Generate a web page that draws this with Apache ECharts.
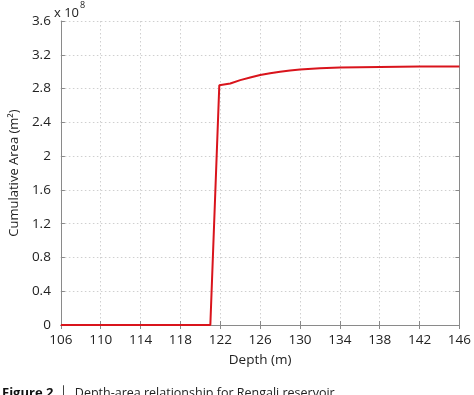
<!DOCTYPE html>
<html>
<head>
<meta charset="utf-8">
<script src="https://cdn.jsdelivr.net/npm/echarts@6/dist/echarts.min.js"></script>
<style>
html,body{margin:0;padding:0;background:#fff;}
#chart{width:474px;height:395px;}
</style>
</head>
<body>
<div id="chart"></div>
<script>
// Depth (m)
const depth = [106, 121.0, 121.9, 123, 124, 125, 126, 127, 128, 129, 130, 132, 134, 138, 142, 146];
// Cumulative area (x 10^8 m^2)
const area = [0, 0, 2.84, 2.86, 2.90, 2.93, 2.96, 2.98, 3.00, 3.015, 3.025, 3.04, 3.05, 3.055, 3.06, 3.06];
const xTicks = [106, 110, 114, 118, 122, 126, 130, 134, 138, 142, 146];
const yTicks = [0, 0.4, 0.8, 1.2, 1.6, 2, 2.4, 2.8, 3.2, 3.6];

const FONT = '"Open Sans", sans-serif';
const axisColor = '#8a8a8a';
const gridLine = {show: true, lineStyle: {color: '#cfcfcf', type: [1.5, 2.5], width: 1}};

const chart = echarts.init(document.getElementById('chart'), null, {renderer: 'canvas'});
const series = depth.map((d, i) => [d, area[i]]);

chart.setOption({
  animation: false,
  backgroundColor: '#fff',
  grid: {left: 54, right: 12, top: 21, bottom: 70, containLabel: false},
  xAxis: [{
    type: 'value', position: 'bottom',
    min: xTicks[0], max: xTicks[xTicks.length - 1], interval: 4,
    name: 'Depth (m)', nameLocation: 'middle', nameGap: 28,
    nameTextStyle: {fontFamily: FONT, fontSize: 13.5, color: '#222'},
    axisLine: {show: true, lineStyle: {color: axisColor, width: 1}},
    axisTick: {show: true, inside: true, length: 4, lineStyle: {color: axisColor}},
    axisLabel: {fontFamily: FONT, fontSize: 13.5, color: '#222', margin: 8},
    splitLine: gridLine
  }, {
    type: 'value', position: 'top',
    min: xTicks[0], max: xTicks[xTicks.length - 1], interval: 4,
    axisLine: {show: true, lineStyle: {color: axisColor, width: 1}},
    axisTick: {show: true, inside: true, length: 4, lineStyle: {color: axisColor}},
    axisLabel: {show: false}, splitLine: {show: false}
  }],
  yAxis: [{
    type: 'value', position: 'left',
    min: yTicks[0], max: yTicks[yTicks.length - 1], interval: 0.4,
    name: 'Cumulative Area (m²)', nameLocation: 'middle', nameGap: 33, nameRotate: 90,
    nameTextStyle: {fontFamily: FONT, fontSize: 13, color: '#222'},
    axisLine: {show: true, lineStyle: {color: axisColor, width: 1}},
    axisTick: {show: true, inside: true, length: 4, lineStyle: {color: axisColor}},
    axisLabel: {fontFamily: FONT, fontSize: 13.5, color: '#222', margin: 10},
    splitLine: gridLine
  }, {
    type: 'value', position: 'right',
    min: yTicks[0], max: yTicks[yTicks.length - 1], interval: 0.4,
    axisLine: {show: true, lineStyle: {color: axisColor, width: 1}},
    axisTick: {show: true, inside: true, length: 4, lineStyle: {color: axisColor}},
    axisLabel: {show: false}, splitLine: {show: false}
  }],
  series: [{
    type: 'line', data: series, xAxisIndex: 0, yAxisIndex: 0,
    showSymbol: false, symbol: 'none', smooth: false,
    lineStyle: {color: '#d9141c', width: 2},
    z: 5
  }],
  graphic: [
    {type: 'text', left: 54, top: 7, style: {text: 'x 10', fontFamily: FONT, fontSize: 13, fill: '#222'}},
    {type: 'text', left: 80, top: 1, style: {text: '8', fontFamily: FONT, fontSize: 9, fill: '#222'}},
    {type: 'text', left: 2, top: 387, style: {
      text: '{b|Figure 2}  {s|│}  {n|Depth-area relationship for Rengali reservoir}',
      rich: {
        b: {fontFamily: FONT, fontSize: 13, fontWeight: 'bold', fill: '#111'},
        s: {fontFamily: FONT, fontSize: 13, fill: '#333'},
        n: {fontFamily: FONT, fontSize: 12.5, fill: '#222'}
      }
    }}
  ]
});
</script>
</body>
</html>
